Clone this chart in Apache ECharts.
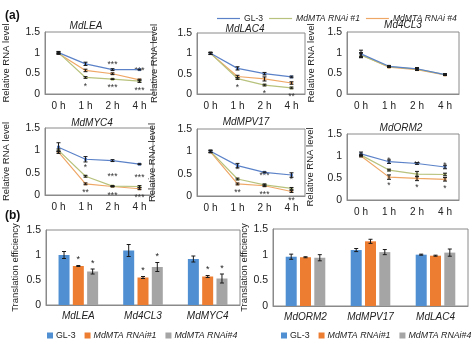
<!DOCTYPE html>
<html>
<head>
<meta charset="utf-8">
<script src="https://cdn.jsdelivr.net/npm/echarts@6/dist/echarts.min.js"></script>
<style>
  html, body { margin: 0; padding: 0; background: #fff; }
  #chart { width: 475px; height: 352px; }
</style>
</head>
<body>
<div id="chart"></div>
<script>
// ---- data ----
const timeLabels = ['0 h', '1 h', '2 h', '4 h'];

const leaGl3 = [1.0, 0.73, 0.59, 0.59];
const leaGl3Err = [0.03, 0.04, 0.02, 0.01];
const leaR1 = [1.0, 0.40, 0.36, 0.31];
const leaR1Err = [0.02, 0.02, 0.01, 0.03];
const leaR4 = [0.98, 0.57, 0.49, 0.34];
const leaR4Err = [0.02, 0.03, 0.02, 0.02];
const leaR1Sig = ['', '*', '***', '***'];
const leaR4Sig = ['', '', '***', '***'];

const lac4Gl3 = [1.0, 0.63, 0.50, 0.42];
const lac4Gl3Err = [0.03, 0.04, 0.03, 0.02];
const lac4R1 = [1.0, 0.38, 0.22, 0.15];
const lac4R1Err = [0.02, 0.02, 0.02, 0.02];
const lac4R4 = [1.0, 0.43, 0.37, 0.27];
const lac4R4Err = [0.02, 0.03, 0.05, 0.03];
const lac4R1Sig = ['', '*', '*', '**'];
const lac4R4Sig = ['', '', '', ''];

const cl3Gl3 = [0.97, 0.67, 0.61, 0.47];
const cl3Gl3Err = [0.09, 0.02, 0.03, 0.02];
const cl3R1 = [0.94, 0.66, 0.60, 0.47];
const cl3R1Err = [0.06, 0.01, 0.02, 0.02];
const cl3R4 = [0.95, 0.65, 0.59, 0.46];
const cl3R4Err = [0.04, 0.01, 0.02, 0.01];
const cl3R1Sig = ['', '', '', ''];
const cl3R4Sig = ['', '', '', ''];

const myc4Gl3 = [1.07, 0.80, 0.77, 0.69];
const myc4Gl3Err = [0.10, 0.06, 0.02, 0.01];
const myc4R1 = [1.0, 0.42, 0.20, 0.19];
const myc4R1Err = [0.03, 0.02, 0.01, 0.02];
const myc4R4 = [0.96, 0.25, 0.19, 0.14];
const myc4R4Err = [0.03, 0.02, 0.01, 0.02];
const myc4R1Sig = ['', '*', '***', '***'];
const myc4R4Sig = ['', '**', '***', '***'];

const mpv17Gl3 = [1.0, 0.68, 0.53, 0.47];
const mpv17Gl3Err = [0.03, 0.05, 0.01, 0.05];
const mpv17R1 = [1.0, 0.38, 0.25, 0.17];
const mpv17R1Err = [0.02, 0.02, 0.02, 0.02];
const mpv17R4 = [0.99, 0.27, 0.23, 0.10];
const mpv17R4Err = [0.02, 0.02, 0.02, 0.02];
const mpv17R1Sig = ['', '*', '***', '*'];
const mpv17R4Sig = ['', '**', '***', '**'];

const orm2Gl3 = [1.05, 0.87, 0.83, 0.75];
const orm2Gl3Err = [0.04, 0.04, 0.02, 0.04];
const orm2R1 = [1.02, 0.68, 0.59, 0.58];
const orm2R1Err = [0.02, 0.02, 0.06, 0.03];
const orm2R4 = [1.0, 0.52, 0.49, 0.47];
const orm2R4Err = [0.02, 0.05, 0.05, 0.04];
const orm2R1Sig = ['', '*', '**', '*'];
const orm2R4Sig = ['', '*', '*', '*'];

// panel (b)
const barGenesLeft = ['MdLEA', 'Md4CL3', 'MdMYC4'];
const barLeftGl3 = [1.0, 1.09, 0.92];
const barLeftGl3Err = [0.07, 0.12, 0.06];
const barLeftR1 = [0.78, 0.55, 0.57];
const barLeftR1Err = [0.01, 0.02, 0.02];
const barLeftR4 = [0.67, 0.76, 0.53];
const barLeftR4Err = [0.05, 0.09, 0.09];
const barLeftSig = [['', '', ''], ['*', '*', '*'], ['*', '*', '*']];

const barGenesRight = ['MdORM2', 'MdMPV17', 'MdLAC4'];
const barRightGl3 = [0.96, 1.09, 1.0];
const barRightGl3Err = [0.05, 0.03, 0.01];
const barRightR1 = [0.95, 1.26, 0.98];
const barRightR1Err = [0.01, 0.04, 0.01];
const barRightR4 = [0.94, 1.05, 1.04];
const barRightR4Err = [0.06, 0.05, 0.07];
const barRightSig = [['', '', ''], ['', '', ''], ['', '', '']];

// ---- look ----
const FONT = 'Liberation Sans, Arial, sans-serif';
const lineColors = ['#5b82c8', '#b8c27c', '#efa766'];
const barColors = ['#4f8fd2', '#ed7d31', '#a5a5a5'];
const BAR_W = 11;
const BAR_GAP = 0.3;

const linePanels = [
  { gene: 'MdLEA', gl3: leaGl3, gl3Err: leaGl3Err, r1: leaR1, r1Err: leaR1Err, r4: leaR4, r4Err: leaR4Err, r1Sig: leaR1Sig, r4Sig: leaR4Sig,
    grid: { left: 42, top: 32, width: 111, height: 62 }, nameGap: 34, title: [86, 26] },
  { gene: 'MdLAC4', gl3: lac4Gl3, gl3Err: lac4Gl3Err, r1: lac4R1, r1Err: lac4R1Err, r4: lac4R4, r4Err: lac4R4Err, r1Sig: lac4R1Sig, r4Sig: lac4R4Sig,
    grid: { left: 197, top: 33, width: 108, height: 61 }, nameGap: 38, title: [245, 29] },
  { gene: 'Md4CL3', gl3: cl3Gl3, gl3Err: cl3Gl3Err, r1: cl3R1, r1Err: cl3R1Err, r4: cl3R4, r4Err: cl3R4Err, r1Sig: cl3R1Sig, r4Sig: cl3R4Sig,
    grid: { left: 347, top: 32, width: 112, height: 62 }, nameGap: 31, title: [403, 25] },
  { gene: 'MdMYC4', gl3: myc4Gl3, gl3Err: myc4Gl3Err, r1: myc4R1, r1Err: myc4R1Err, r4: myc4R4, r4Err: myc4R4Err, r1Sig: myc4R1Sig, r4Sig: myc4R4Sig,
    grid: { left: 42, top: 128, width: 111, height: 67 }, nameGap: 34, title: [92, 123] },
  { gene: 'MdMPV17', gl3: mpv17Gl3, gl3Err: mpv17Gl3Err, r1: mpv17R1, r1Err: mpv17R1Err, r4: mpv17R4, r4Err: mpv17R4Err, r1Sig: mpv17R1Sig, r4Sig: mpv17R4Sig,
    grid: { left: 197, top: 129, width: 108, height: 67 }, nameGap: 40, title: [246, 122] },
  { gene: 'MdORM2', gl3: orm2Gl3, gl3Err: orm2Gl3Err, r1: orm2R1, r1Err: orm2R1Err, r4: orm2R4, r4Err: orm2R4Err, r1Sig: orm2R1Sig, r4Sig: orm2R4Sig,
    grid: { left: 347, top: 134, width: 112, height: 66 }, nameGap: 32, title: [401, 128] }
];

const barPanels = [
  { genes: barGenesLeft, vals: [barLeftGl3, barLeftR1, barLeftR4], errs: [barLeftGl3Err, barLeftR1Err, barLeftR4Err], sig: barLeftSig,
    grid: { left: 46, top: 230, width: 194, height: 75 }, nameGap: 26, legendLeft: 42 },
  { genes: barGenesRight, vals: [barRightGl3, barRightR1, barRightR4], errs: [barRightGl3Err, barRightR1Err, barRightR4Err], sig: barRightSig,
    grid: { left: 273, top: 229, width: 195, height: 77 }, nameGap: 20, legendLeft: 276 }
];

const lineNames = ['GL-3', 'MdMTA RNAi #1', 'MdMTA RNAi #4'];
const barNames = ['GL-3 ', 'MdMTA RNAi#1', 'MdMTA RNAi#4'];

const grids = [], xAxes = [], yAxes = [], series = [], graphics = [];

// error bars (+ optional star above) drawn through the axis scales
function makeErrRender(rows) {
  return function (params, api) {
    const row = rows[params.dataIndex];
    const lo = api.coord([row[0], row[1]]);
    const hi = api.coord([row[0], row[2]]);
    const cx = lo[0] + row[3];
    const st = { stroke: '#1a1a1a', lineWidth: 1 };
    const kids = [
      { type: 'line', shape: { x1: cx, y1: lo[1], x2: cx, y2: hi[1] }, style: st },
      { type: 'line', shape: { x1: cx - 2, y1: lo[1], x2: cx + 2, y2: lo[1] }, style: st },
      { type: 'line', shape: { x1: cx - 2, y1: hi[1], x2: cx + 2, y2: hi[1] }, style: st }
    ];
    if (row[4]) {
      kids.push({ type: 'text', x: cx, y: hi[1] - 1,
        style: { text: row[4], fontSize: 9, fontFamily: FONT, fill: '#222',
          align: 'center', verticalAlign: 'bottom', textAlign: 'center', textVerticalAlign: 'bottom' } });
    }
    return { type: 'group', children: kids };
  };
}

function yAxisBase(gi, name, gap) {
  return {
    gridIndex: gi, type: 'value', min: 0, max: 1.5, interval: 0.5,
    name: name, nameLocation: 'middle', nameGap: gap,
    nameTextStyle: { fontSize: 9.5, fontFamily: FONT, color: '#222' },
    axisLine: { show: true, lineStyle: { color: '#8a8a8a' } },
    axisTick: { show: false },
    splitLine: { show: false },
    axisLabel: { fontSize: 10.5, fontFamily: FONT, color: '#222', margin: 5 }
  };
}

linePanels.forEach((p, gi) => {
  grids.push(Object.assign({ show: true, borderColor: '#8a8a8a', borderWidth: 1 }, p.grid));
  xAxes.push({
    gridIndex: gi, type: 'category', data: timeLabels, boundaryGap: true,
    axisLine: { lineStyle: { color: '#8a8a8a' } }, axisTick: { show: false },
    axisLabel: { fontSize: 10, fontFamily: FONT, color: '#222', margin: 7 }
  });
  yAxes.push(yAxisBase(gi, 'Relative RNA level', p.nameGap));

  const sets = [
    { vals: p.gl3, err: p.gl3Err, sig: null, other: null },
    { vals: p.r1, err: p.r1Err, sig: p.r1Sig, other: p.r4 },
    { vals: p.r4, err: p.r4Err, sig: p.r4Sig, other: p.r1 }
  ];
  const errRows = [];
  sets.forEach((s, k) => {
    series.push({
      type: 'line', name: lineNames[k], xAxisIndex: gi, yAxisIndex: gi,
      symbol: 'rect', symbolSize: 3, color: lineColors[k],
      lineStyle: { width: 1.2, color: lineColors[k] },
      itemStyle: { color: lineColors[k] },
      z: 3 - k,
      data: s.vals.map((v, i) => {
        const sig = s.sig ? s.sig[i] : '';
        const up = s.other ? v >= s.other[i] : true;
        return {
          value: v,
          label: sig ? { show: true, formatter: sig, position: up ? 'top' : 'bottom', distance: 3,
            fontSize: 8.5, fontFamily: FONT, color: '#333' } : { show: false }
        };
      })
    });
    s.vals.forEach((v, i) => errRows.push([i, v - s.err[i], v + s.err[i], 0, '']));
  });
  series.push({
    type: 'custom', xAxisIndex: gi, yAxisIndex: gi, z: 5, silent: true,
    renderItem: makeErrRender(errRows), encode: { x: 0, y: [1, 2] },
    data: errRows.map(r => [r[0], r[1], r[2]])
  });

  graphics.push({ type: 'text', x: p.title[0], y: p.title[1],
    style: { text: p.gene, fontSize: 10, fontStyle: 'italic', fontFamily: FONT, fill: '#222',
      align: 'center', verticalAlign: 'middle', textAlign: 'center', textVerticalAlign: 'middle' } });
});

const legends = [{
  data: lineNames, left: 212, top: 9, width: 262, itemWidth: 23, itemHeight: 1.2, icon: 'rect', itemGap: 6,
  textStyle: { fontSize: 8.6, fontFamily: FONT, color: '#222', padding: [0, 0, 0, -1],
    rich: { i: { fontStyle: 'italic', fontSize: 8.6, fontFamily: FONT, color: '#222' } } },
  formatter: n => (n === 'GL-3' ? n : '{i|' + n + '}')
}];

barPanels.forEach((p, bi) => {
  const gi = linePanels.length + bi;
  grids.push(Object.assign({ show: true, borderColor: '#8a8a8a', borderWidth: 1 }, p.grid));
  xAxes.push({
    gridIndex: gi, type: 'category', data: p.genes,
    axisLine: { lineStyle: { color: '#8a8a8a' } }, axisTick: { show: false },
    axisLabel: { fontSize: 10, fontStyle: 'italic', fontFamily: FONT, color: '#222', margin: 6 }
  });
  yAxes.push(yAxisBase(gi, 'Translation efficiency', p.nameGap));
  const errRows = [];
  p.vals.forEach((vals, k) => {
    series.push({
      type: 'bar', name: barNames[k], xAxisIndex: gi, yAxisIndex: gi,
      barWidth: BAR_W, barGap: (BAR_GAP * 100) + '%', color: barColors[k],
      itemStyle: { color: barColors[k] }, data: vals
    });
    const dx = (k - 1) * BAR_W * (1 + BAR_GAP);
    vals.forEach((v, i) => errRows.push([i, v - p.errs[k][i], v + p.errs[k][i], dx, p.sig[k][i]]));
  });
  series.push({
    type: 'custom', xAxisIndex: gi, yAxisIndex: gi, z: 5, silent: true,
    renderItem: makeErrRender(errRows), encode: { x: 0, y: [1, 2] },
    data: errRows.map(r => [r[0], r[1], r[2]])
  });
  legends.push({
    data: barNames, left: p.legendLeft, top: 326, width: 230, itemWidth: 6, itemHeight: 6, icon: 'rect', itemGap: 9,
    textStyle: { fontSize: 8.8, fontFamily: FONT, color: '#222', padding: [0, 0, 0, -2],
      rich: { i: { fontStyle: 'italic', fontSize: 8.8, fontFamily: FONT, color: '#222' } } },
    formatter: n => (n.trim() === 'GL-3' ? 'GL-3' : '{i|' + n + '}')
  });
});

graphics.push({ type: 'text', x: 5, y: 16,
  style: { text: '(a)', fontSize: 12, fontWeight: 'bold', fontFamily: FONT, fill: '#111', verticalAlign: 'middle', textVerticalAlign: 'middle' } });
graphics.push({ type: 'text', x: 5, y: 216,
  style: { text: '(b)', fontSize: 12, fontWeight: 'bold', fontFamily: FONT, fill: '#111', verticalAlign: 'middle', textVerticalAlign: 'middle' } });

const myChart = echarts.init(document.getElementById('chart'), null, { renderer: 'canvas' });
myChart.setOption({
  animation: false,
  backgroundColor: '#fff',
  textStyle: { fontFamily: FONT },
  grid: grids,
  xAxis: xAxes,
  yAxis: yAxes,
  legend: legends,
  graphic: graphics,
  series: series
});
</script>
</body>
</html>
